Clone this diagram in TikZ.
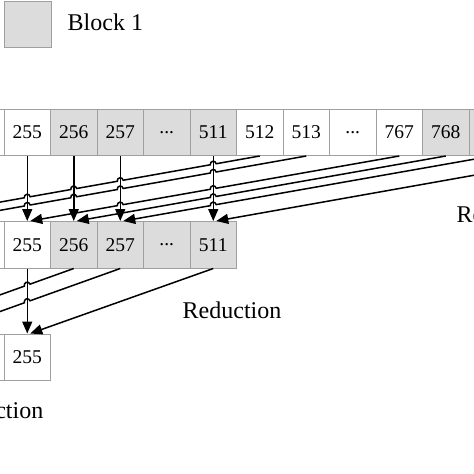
\documentclass[tikz,border=0pt]{standalone}
\usepackage{fontspec}
\setmainfont{Liberation Serif}
\usetikzlibrary{arrows.meta,calc}
\definecolor{cellgray}{HTML}{DCDCDC}
\definecolor{cellline}{HTML}{A0A0A0}
\newcommand\hopr{3pt}
\newcommand\hopline[4]{\draw[arr] (#1) \foreach \v in {#4}{ -- ($(intersection of #1--#2 and \v a--\v b)!\hopr!(#1)$) arc[start angle=#3, delta angle=180, radius=\hopr] } -- (#2);}
\begin{document}
\begin{tikzpicture}[x=1pt,y=1pt,
  cell/.style={draw=cellline, line width=1pt, minimum width=46.5pt, minimum height=46.5pt, inner sep=0pt, font=\fontsize{19.5}{22}\selectfont, fill=white},
  gcell/.style={cell, fill=cellgray},
  arr/.style={line width=1.5pt, -{Triangle[length=12pt,width=10pt]}},
  lbl/.style={font=\fontsize{24}{28}\selectfont, inner sep=0pt}]
\useasboundingbox (0,0) rectangle (474,-474);
\clip (0,0) rectangle (474,-474);
% legend
\node[gcell, minimum width=47pt, minimum height=45.5pt] (leg) at (27.5,-24.25) {};
\node[lbl, anchor=base west] (legtxt) at (67.5,-30.5) {Block 1};
% row 1
\node[cell]  (r1sm) at (-19.25,-132.25) {};
\node[cell]  (r1s0) at (27.25,-132.25) {255};
\node[gcell] (r1s1) at (73.75,-132.25) {256};
\node[gcell] (r1s2) at (120.25,-132.25) {257};
\node[gcell] (r1s3) at (166.75,-132.25) {...};
\node[gcell] (r1s4) at (213.25,-132.25) {511};
\node[cell]  (r1s5) at (259.75,-132.25) {512};
\node[cell]  (r1s6) at (306.25,-132.25) {513};
\node[cell]  (r1s7) at (352.75,-132.25) {...};
\node[cell]  (r1s8) at (399.25,-132.25) {767};
\node[gcell] (r1s9) at (445.75,-132.25) {768};
\node[gcell] (r1s10) at (492.25,-132.25) {};
% row 2
\node[cell]  (r2sm) at (-19.25,-244.75) {};
\node[cell]  (r2s0) at (27.25,-244.75) {255};
\node[gcell] (r2s1) at (73.75,-244.75) {256};
\node[gcell] (r2s2) at (120.25,-244.75) {257};
\node[gcell] (r2s3) at (166.75,-244.75) {...};
\node[gcell] (r2s4) at (213.25,-244.75) {511};
% row 3
\node[cell]  (r3sm) at (-19.25,-357.25) {};
\node[cell]  (r3s0) at (27.25,-357.25) {255};
% off-picture ends
\coordinate (o2a) at (-109.25,-221.5);
\coordinate (o2b) at (-62.75,-221.5);
\coordinate (o3a) at (-109.25,-334);
\coordinate (o3b) at (-62.75,-334);
\coordinate (o1d) at (585.25,-155.5);
% arrival points of slanted arrows
\coordinate (t20) at ($(r2s0.north)+(3,0)$);
\coordinate (t21) at ($(r2s1.north)+(3,0)$);
\coordinate (t22) at ($(r2s2.north)+(3,0)$);
\coordinate (t24) at ($(r2s4.north)+(3,0)$);
\coordinate (t30) at ($(r3s0.north)+(3,0)$);
% vertical guide coordinates
\coordinate (v0a) at (r1s0.south); \coordinate (v0b) at (r2s0.north);
\coordinate (v1a) at (r1s1.south); \coordinate (v1b) at (r2s1.north);
\coordinate (v2a) at (r1s2.south); \coordinate (v2b) at (r2s2.north);
\coordinate (v4a) at (r1s4.south); \coordinate (v4b) at (r2s4.north);
\coordinate (w0a) at (r2s0.south); \coordinate (w0b) at (r3s0.north);
% first reduction
\hopline{r1s5.south}{o2a}{10.06}{v4,v2,v1,v0}
\hopline{r1s6.south}{o2b}{10.06}{v4,v2,v1,v0}
\hopline{r1s8.south}{t20}{10.06}{v4,v2,v1}
\hopline{r1s9.south}{t21}{10.06}{v4,v2}
\hopline{r1s10.south}{t22}{10.06}{v4}
\draw[arr] (o1d) -- (t24);
\draw[arr] (r1s0.south) -- (r2s0.north);
\draw[arr] (r1s1.south) -- (r2s1.north);
\draw[arr] (r1s2.south) -- (r2s2.north);
\draw[arr] (r1s4.south) -- (r2s4.north);
% second reduction
\hopline{r2s1.south}{o3a}{19.53}{w0}
\hopline{r2s2.south}{o3b}{19.53}{w0}
\draw[arr] (r2s4.south) -- (t30);
\draw[arr] (r2s0.south) -- (r3s0.north);
% labels
\node[lbl, anchor=base west] (red1) at (456.5,-222) {Reduction};
\node[lbl, anchor=base west] (red2) at (182.5,-318) {Reduction};
\node[lbl, anchor=base east] (red3) at (43.5,-418) {Reduction};
\end{tikzpicture}
\end{document}
